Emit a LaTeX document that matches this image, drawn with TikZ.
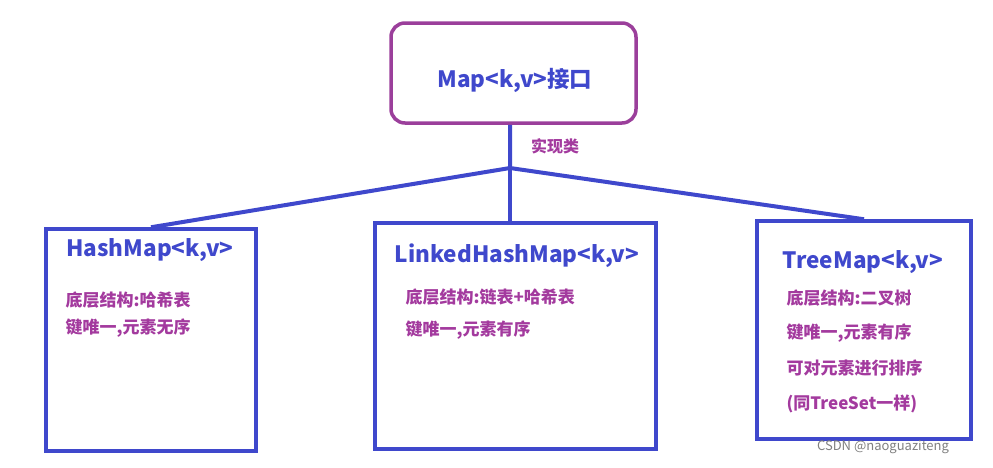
\documentclass[tikz,border=0pt]{standalone}
\usepackage{fontspec}
\setmainfont{Noto Sans CJK SC}
\definecolor{bl}{HTML}{3F48CC}
\definecolor{pu}{HTML}{9B3F9B}
\definecolor{tx}{HTML}{A33A9E}
\begin{document}
\begin{tikzpicture}[x=1pt,y=-1pt,
 box/.style={draw=bl,line width=3.5pt},
 ttl/.style={text=bl,font=\fontsize{22.5}{26}\selectfont\bfseries},
 body/.style={text=tx,font=\fontsize{17}{35}\selectfont\bfseries,align=left,anchor=west},
 ln/.style={draw=bl,line width=4pt}]
\useasboundingbox (0,0) rectangle (993,467);
\node[draw=pu,line width=3.5pt,rounded corners=14pt,minimum width=245pt,minimum height=100pt] (top) at (513.5,73) {};
\node[ttl] (tt) at (515,80) {Map<k,v>接口};
\coordinate (hub) at (510,168);
\node[box,minimum width=210pt,minimum height=222pt] (l) at (151,340) {};
\node[box,minimum width=281pt,minimum height=226pt] (m) at (515.5,336) {};
\node[box,minimum width=214pt,minimum height=218pt] (r) at (864,330) {};
\draw[ln] (top.south -| hub) -- (hub) -- (l.north);
\draw[ln] (hub) -- (m.north -| hub);
\draw[ln] (hub) -- (r.north);
\node[text=tx,font=\fontsize{16}{18}\selectfont\bfseries] (lab) at (555,146) {实现类};
\node[ttl] (lt) at (150,250) {HashMap<k,v>};
\node[body] (lb1) at (62,300) {底层结构:哈希表};
\node[body] (lb2) at (62,328) {键唯一,元素无序};
\node[ttl] (mt) at (517,256) {LinkedHashMap<k,v>};
\node[body] (mb1) at (402,297) {底层结构:链表+哈希表};
\node[body] (mb2) at (402,330) {键唯一,元素有序};
\node[ttl] (rt) at (863,262) {TreeMap<k,v>};
\node[body] (rb1) at (783,298) {底层结构:二叉树};
\node[body] (rb2) at (783,333) {键唯一,元素有序};
\node[body] (rb3) at (783,368) {可对元素进行排序};
\node[body] (rb4) at (783,404) {(同TreeSet一样)};
\node[text=gray,font=\fontsize{13}{14}\selectfont] (wm) at (883,447) {CSDN @naoguaziteng};
\end{tikzpicture}
\end{document}
